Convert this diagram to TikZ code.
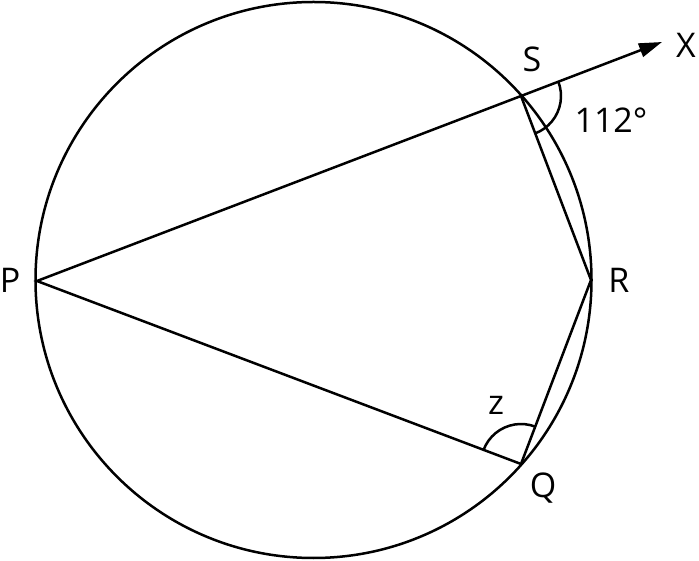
\documentclass[tikz,border=0pt]{standalone}
\usepackage{fontspec}
\setmainfont{Open Sans}
\usetikzlibrary{angles,arrows.meta}

\begin{document}
\begin{tikzpicture}[x=1pt, y=1pt, line width=2.5pt,
	lbl/.style={font=\fontsize{34}{40}\selectfont, inner sep=0pt}]
\useasboundingbox (0,0) rectangle (699,560);

% circle and points on it
\coordinate (C) at (313.5, 280);
\draw (C) circle (278);

\coordinate (P) at (37, 279);
\coordinate (S) at (521, 464);
\coordinate (R) at (591, 280);
\coordinate (Q) at (521, 96);
\coordinate (X) at (662, 518);

\draw (P) -- (S) -- (R) -- (Q) -- cycle;
\draw [-{Triangle[length=23pt, width=14pt]}] (S) -- (X);

% angle marks
\pic [draw, angle radius=40pt] {angle = R--S--X};
\pic [draw, angle radius=40pt] {angle = R--Q--P};

\node[lbl] (lblP) at (10, 280) {P};
\node[lbl] (lblS) at (532, 501) {S};
\node[lbl] (lblR) at (619, 280) {R};
\node[lbl] (lblQ) at (543, 72) {Q};
\node[lbl] (lblX) at (686, 515) {X};
\node[lbl] (lblz) at (496, 155) {z};
\node[lbl] (lblang) at (611, 440) {112°};

\end{tikzpicture}
\end{document}
